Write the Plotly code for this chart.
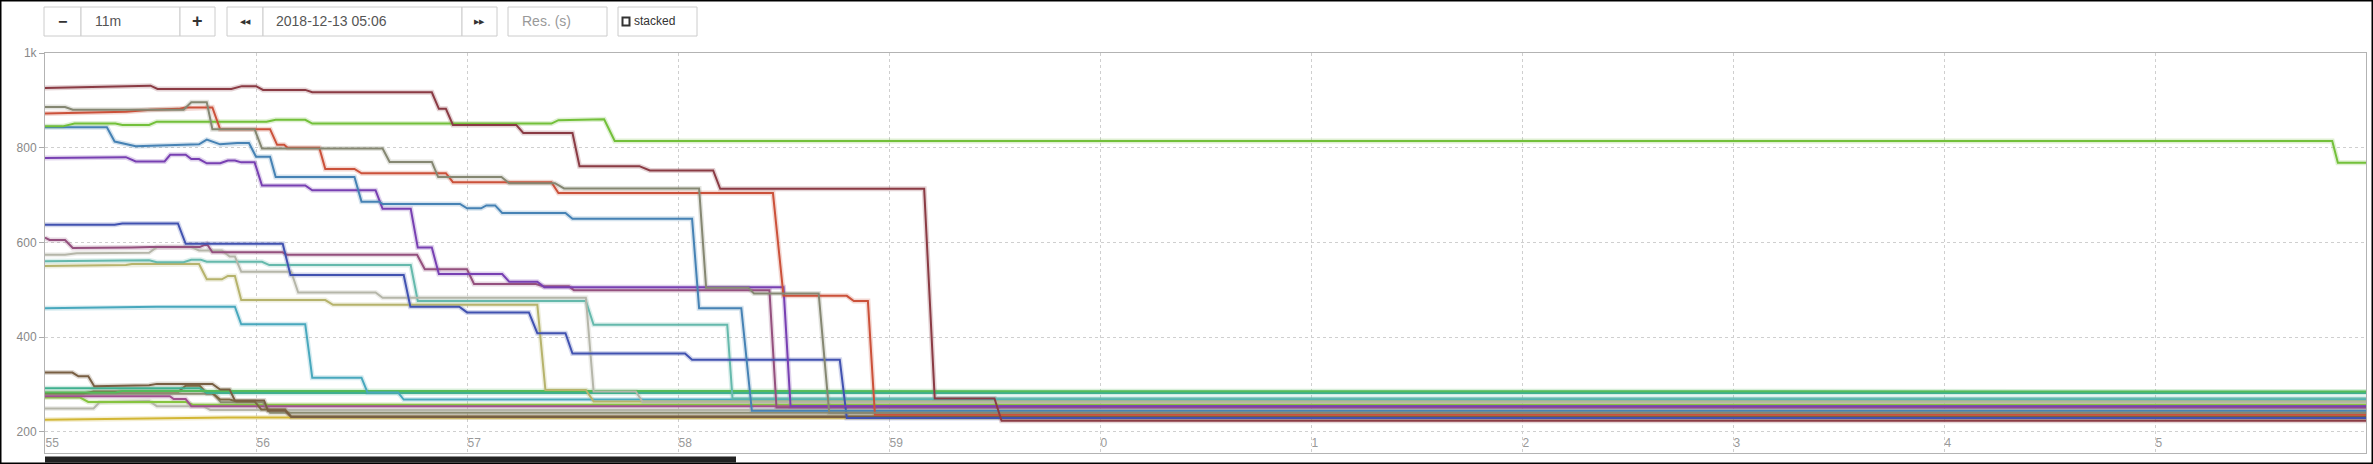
import pandas as pd
import plotly.graph_objects as go

BASE = pd.Timestamp("2018-12-13 04:55:00")
X_START = "2018-12-13 04:55:00"
X_END = "2018-12-13 05:06:00"

# x tick positions (minutes) and labels
tick_times = ["2018-12-13 04:55", "2018-12-13 04:56", "2018-12-13 04:57", "2018-12-13 04:58",
              "2018-12-13 04:59", "2018-12-13 05:00", "2018-12-13 05:01", "2018-12-13 05:02",
              "2018-12-13 05:03", "2018-12-13 05:04", "2018-12-13 05:05"]
tick_labels = ["55", "56", "57", "58", "59", "0", "1", "2", "3", "4", "5"]
y_ticks = [200, 400, 600, 800, 1000]
y_labels = ["200", "400", "600", "800", "1k"]

# ---- series data: seconds after 04:55:00 and values ----
dark_red_t = [0, 23, 30, 32, 53, 56, 60, 62, 74, 76, 110, 112, 114, 116, 134, 136, 150, 152, 169, 172,
              190, 192, 250, 253, 270, 272, 660]
dark_red_v = [926, 929, 931, 924, 924, 930, 930, 922, 922, 917, 917, 882, 882, 848, 848, 831, 831, 761,
              761, 752, 752, 713, 713, 270, 270, 223, 223]

gray_olive_t = [0, 5.7, 7.9, 39.4, 41.6, 46, 47.6, 59.6, 61.7, 96, 98, 110, 111.8, 129.8, 132, 145,
                147.6, 186, 188, 200, 201.6, 220, 223, 660]
gray_olive_v = [886, 886, 880, 880, 896, 896, 839, 839, 798, 798, 770, 770, 738, 738, 725, 725, 714,
                714, 504, 504, 492, 492, 240, 240]

red_t = [0, 23, 30, 38, 40, 47.6, 49.8, 64, 66, 68, 69, 78, 79.7, 88, 90, 114, 116, 144, 146, 207, 210,
         228, 230, 234, 236, 660]
red_v = [872, 876, 880, 882, 885, 885, 839, 839, 806, 806, 800, 800, 755, 755, 746, 746, 727, 727, 704,
         704, 487, 487, 476, 476, 236, 236]

green_t = [0, 5, 8.4, 20, 22, 29.6, 31.8, 63, 65.6, 74, 76, 144, 146, 159, 162, 650.4, 652, 660]
green_v = [845, 845, 851, 851, 848, 848, 855, 855, 859, 859, 851, 851, 858, 860, 814, 814, 768, 768]

blue_t = [0, 17.6, 19.8, 25.8, 43.8, 46, 49.8, 54.7, 58, 60, 64, 65.6, 88, 90, 95, 96, 118, 120, 124,
          125.5, 128, 130, 148, 150, 184, 186, 198, 201, 660]
blue_v = [843, 843, 813, 803, 807, 817, 807, 810, 810, 781, 781, 738, 738, 686, 686, 681, 681, 672, 672,
          678, 678, 662, 662, 650, 650, 461, 461, 244, 244]

purple_t = [0, 23, 25.8, 34, 35.6, 40, 41.6, 43.8, 46, 49.8, 52, 54, 55.8, 59.6, 61.7, 74, 76, 94, 96,
            104, 106, 110, 112, 130, 132, 140, 142, 210, 212, 660]
purple_v = [778, 780, 771, 771, 785, 785, 776, 776, 767, 767, 773, 773, 769, 769, 720, 720, 710, 710,
            671, 671, 589, 589, 533, 533, 517, 517, 505, 505, 254, 254]

indigo_t = [0, 19.8, 22, 37.8, 40, 67.6, 69.8, 102, 103.9, 117.8, 120, 137.6, 140, 148, 150, 182, 184,
            226, 228, 660]
indigo_v = [637, 637, 640, 640, 597, 597, 531, 531, 464, 464, 452, 452, 408, 408, 365, 365, 352, 352,
            229, 229]

magenta_t = [0, 1.3, 5.7, 7.9, 24.6, 30, 44, 46, 47.6, 67.6, 68.7, 105.8, 108, 120, 122, 139.6, 141.7,
             149, 150.4, 206, 208, 660]
magenta_v = [610, 605, 605, 588, 589, 590, 590, 597, 579, 579, 574, 574, 543, 543, 512, 512, 507, 507,
             499, 499, 251, 251]

light_gray_t = [0, 5.7, 9, 29.6, 31.8, 41.6, 43.8, 50.3, 52.5, 54, 55.8, 70, 72, 94, 96, 153.8, 156,
                168, 170, 660]
light_gray_v = [574, 574, 577, 578, 590, 590, 583, 583, 570, 570, 538, 538, 494, 494, 483, 483, 285,
                285, 262, 262]

teal_t = [0, 29.6, 31.8, 39.4, 41.6, 44.3, 46, 61.7, 63.8, 104, 106, 153.8, 156, 194, 195.5, 660]
teal_v = [560, 562, 558, 558, 563, 563, 559, 559, 552, 552, 476, 476, 426, 426, 270, 270]

khaki_t = [0, 23, 24.7, 43.8, 46, 50.3, 52, 54, 55.8, 79.7, 81.9, 140, 142.3, 153.8, 156, 660]
khaki_v = [550, 552, 554, 554, 522, 522, 529, 529, 478, 478, 468, 468, 288, 288, 264, 264]

cyan_t = [0, 31.8, 54, 55.8, 74, 76, 90, 91.7, 100.4, 102, 660]
cyan_v = [461, 464, 464, 427, 427, 314, 314, 283, 283, 268, 268]

brown_t = [0, 7.8, 9.5, 12.3, 14, 29.6, 31.8, 47.6, 49.8, 52.5, 54, 62.3, 63.4, 68.3, 70, 660]
brown_v = [325, 325, 317, 317, 296, 298, 301, 301, 289, 289, 266, 266, 244, 244, 231, 231]

teal_green_t = [0, 44, 46, 660]
teal_green_v = [292, 292, 282, 282]

bright_green_t = [0, 20, 22, 660]
bright_green_v = [283, 283, 286, 285]

olive_brown_t = [0, 11, 13.8, 38, 40, 44, 46, 47.6, 49.8, 52.5, 54.5, 59.6, 61.5, 68.3, 70, 660]
olive_brown_v = [281, 281, 285, 285, 297, 297, 281, 281, 268, 268, 264, 264, 247, 247, 232, 232]

olive2_t = [0, 48, 50, 62, 64, 660]
olive2_v = [280, 280, 262, 262, 240, 240]

magenta2_t = [0, 35.5, 36.6, 40, 41.6, 660]
magenta2_v = [275, 275, 269, 269, 254, 253]

lime_t = [0, 10, 12.3, 40, 42, 660]
lime_v = [272, 272, 263, 263, 257, 257]

light_gray2_t = [0, 13.8, 15.5, 29.6, 31.8, 45, 47, 660]
light_gray2_v = [249, 249, 262, 265, 254, 254, 246, 246]

yellow_t = [0, 30, 52, 660]
yellow_v = [225, 228, 230, 230]

series = [
    ("yellow", "#d2b634", yellow_t, yellow_v),
    ("light_gray2", "#b5b6a9", light_gray2_t, light_gray2_v),
    ("lime", "#86c440", lime_t, lime_v),
    ("magenta2", "#a0508f", magenta2_t, magenta2_v),
    ("olive2", "#8a8a70", olive2_t, olive2_v),
    ("olive_brown", "#7d6843", olive_brown_t, olive_brown_v),
    ("teal_green", "#3fb08e", teal_green_t, teal_green_v),
    ("bright_green", "#55bb5a", bright_green_t, bright_green_v),
    ("brown", "#785f43", brown_t, brown_v),
    ("cyan", "#48a8bd", cyan_t, cyan_v),
    ("khaki", "#b6b36c", khaki_t, khaki_v),
    ("teal", "#65b9ac", teal_t, teal_v),
    ("light_gray", "#b5b6a9", light_gray_t, light_gray_v),
    ("magenta", "#94507e", magenta_t, magenta_v),
    ("indigo", "#4152b0", indigo_t, indigo_v),
    ("purple", "#7840b2", purple_t, purple_v),
    ("blue", "#4682b4", blue_t, blue_v),
    ("green", "#73c03a", green_t, green_v),
    ("red", "#cb513a", red_t, red_v),
    ("gray_olive", "#858772", gray_olive_t, gray_olive_v),
    ("dark_red", "#8a3b44", dark_red_t, dark_red_v),
]

fig = go.Figure()
for name, color, ts, vs in series:
    xs = [BASE + pd.Timedelta(seconds=s) for s in ts]
    fig.add_trace(go.Scatter(x=xs, y=vs, mode="lines", line=dict(color=color, width=5),
                             opacity=0.22, hoverinfo="skip", showlegend=False))
for name, color, ts, vs in series:
    xs = [BASE + pd.Timedelta(seconds=s) for s in ts]
    fig.add_trace(go.Scatter(x=xs, y=vs, mode="lines", name=name,
                             line=dict(color=color, width=2), showlegend=False))

W, H = 2373, 464
ML, MR, MT, MB = 45, 7, 53, 11
PW, PH = W - ML - MR, H - MT - MB


def px(x):
    return (x - ML) / PW


def py(y):
    return (H - MB - y) / PH


shapes = []
annotations = []

# toolbar boxes (x0, x1)
boxes = [(44, 81), (81, 180), (180, 215), (227, 263), (263, 462), (462, 497), (508, 607), (618, 697)]
for x0, x1 in boxes:
    shapes.append(dict(type="rect", xref="paper", yref="paper", x0=px(x0), x1=px(x1),
                       y0=py(36), y1=py(7), line=dict(color="#cccccc", width=1), fillcolor="white",
                       layer="above"))

tb_font = "Liberation Sans, Arial, sans-serif"
yc = py(21.5)
annotations += [
    dict(text="<b>−</b>", x=px(62.5), y=yc, xanchor="center", font=dict(size=16, color="#333")),
    dict(text="11m", x=px(93), y=yc, xanchor="left", font=dict(size=14, color="#555")),
    dict(text="<b>+</b>", x=px(197.5), y=yc, xanchor="center", font=dict(size=18, color="#333")),
    dict(text="◀◀", x=px(245), y=yc, xanchor="center", font=dict(size=7, color="#333")),
    dict(text="2018-12-13 05:06", x=px(274), y=yc, xanchor="left", font=dict(size=14, color="#555")),
    dict(text="▶▶", x=px(479.5), y=yc, xanchor="center", font=dict(size=7, color="#333")),
    dict(text="Res. (s)", x=px(520), y=yc, xanchor="left", font=dict(size=14, color="#999")),
    dict(text="stacked", x=px(632), y=yc, xanchor="left", font=dict(size=12, color="#333")),
]
for a in annotations:
    a.update(xref="paper", yref="paper", showarrow=False, yanchor="middle")
    a["font"]["family"] = tb_font

# checkbox icon
shapes.append(dict(type="rect", xref="paper", yref="paper", x0=px(622.5), x1=px(629.5),
                   y0=py(25.5), y1=py(17.5), line=dict(color="#333", width=2), fillcolor="white",
                   layer="above"))

# scrollbar thumb below plot
shapes.append(dict(type="rect", xref="paper", yref="paper", x0=px(45), x1=px(736),
                   y0=py(462.5), y1=py(456.5), line=dict(width=0), fillcolor="#222222"))

# outer black frame
shapes.append(dict(type="rect", xref="paper", yref="paper", x0=px(0), x1=px(W),
                   y0=py(H), y1=py(0), line=dict(color="#000", width=3), fillcolor="rgba(0,0,0,0)"))

fig.update_layout(
    width=W, height=H,
    margin=dict(l=ML, r=MR, t=MT, b=MB, pad=0),
    paper_bgcolor="white", plot_bgcolor="white",
    showlegend=False,
    shapes=shapes, annotations=annotations,
    font=dict(family=tb_font),
)
fig.update_xaxes(
    type="date", range=[X_START, X_END],
    tickvals=tick_times, ticktext=tick_labels,
    ticklabelposition="inside right", ticks="",
    tickfont=dict(size=12, color="#999", family=tb_font),
    showgrid=True, gridcolor="#cfcfcf", griddash="dot", gridwidth=1,
    showline=True, linecolor="#b3b3b3", linewidth=1, mirror=True, zeroline=False,
)
fig.update_yaxes(
    range=[155, 1000], tickvals=y_ticks, ticktext=y_labels,
    ticks="outside", ticklen=5, tickcolor="#aaaaaa",
    tickfont=dict(size=12, color="#888", family=tb_font),
    showgrid=True, gridcolor="#cfcfcf", griddash="dot", gridwidth=1,
    showline=True, linecolor="#b3b3b3", linewidth=1, mirror=True, zeroline=False,
)

fig.write_html("out.html", config={"displayModeBar": False},
               post_script="document.body.style.margin='0';document.body.style.overflow='hidden';")
